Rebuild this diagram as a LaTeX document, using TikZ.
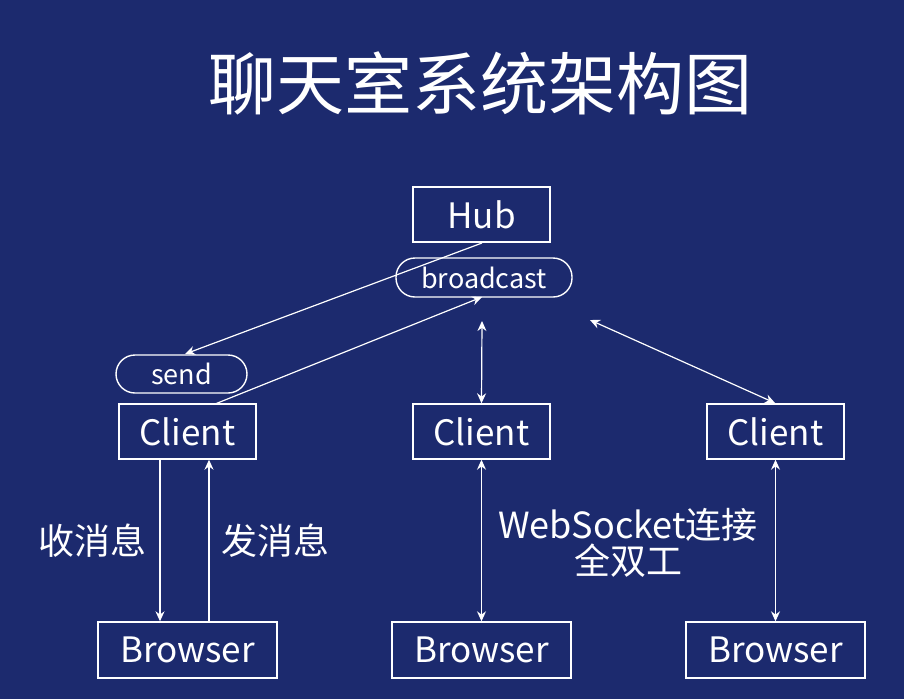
\documentclass[tikz,border=0pt]{standalone}
\usepackage{fontspec}
\setmainfont{Noto Sans CJK SC}
\usetikzlibrary{arrows.meta}
\definecolor{bg}{HTML}{1C2A6E}
\begin{document}
\begin{tikzpicture}[x=1pt,y=-1pt,
  box/.style={draw=white,line width=1.4pt,text=white,font=\fontsize{35}{38}\selectfont,inner sep=0pt},
  pill/.style={draw=white,line width=1.4pt,text=white,rounded corners=19pt,font=\fontsize{27}{30}\selectfont,inner sep=0pt},
  lbl/.style={text=white,font=\fontsize{36}{40}\selectfont,align=center},
  ar/.style={draw=white,line width=1.2pt,-{Stealth[length=10pt,width=9pt]}},
  dar/.style={draw=white,line width=1.2pt,{Stealth[length=10pt,width=9pt]}-{Stealth[length=10pt,width=9pt]}}]
\fill[bg] (0,0) rectangle (904,699);
\useasboundingbox (0,0) rectangle (904,699);
\node[text=white,font=\fontsize{68}{72}\selectfont] (title) at (480,83) {聊天室系统架构图};
\node[box,minimum width=137pt,minimum height=55pt] (hub) at (481.5,214.5) {Hub};
\node[pill,minimum width=176pt,minimum height=39pt] (bc) at (484,277.5) {broadcast};
\node[pill,minimum width=131pt,minimum height=38pt] (send) at (181.5,374) {send};
\foreach \n/\x in {c1/187.5,c2/481.5,c3/775.5}
  \node[box,minimum width=137pt,minimum height=55pt] (\n) at (\x,431.5) {Client};
\foreach \n/\x in {b1/187.5,b2/481.5,b3/775.5}
  \node[box,minimum width=179pt,minimum height=56pt] (\n) at (\x,650) {Browser};
\coordinate (hubb) at (482,243);
\coordinate (sendt) at (185,354);
\coordinate (c1t) at (215,404);
\coordinate (bcb) at (482,297);
\coordinate (m1) at (482,321);
\coordinate (r1) at (590,320);
\coordinate (r2) at (775,403);
\draw[ar] (hubb) -- (sendt);
\draw[ar] (c1t) -- (bcb);
\draw[dar] (m1) -- (c2.north);
\draw[dar] (r1) -- (r2);
\draw[ar] (c1.south -| 160,0) -- (b1.north -| 160,0);
\draw[ar] (b1.north -| 209,0) -- (c1.south -| 209,0);
\draw[dar] (c2.south) -- (b2.north);
\draw[dar] (c3.south) -- (b3.north);
\node[lbl] (l1) at (92,541) {收消息};
\node[lbl] (l2) at (275,541) {发消息};
\node[lbl] (l3) at (628,543) {WebSocket连接\\[-4pt]全双工};
\end{tikzpicture}
\end{document}
